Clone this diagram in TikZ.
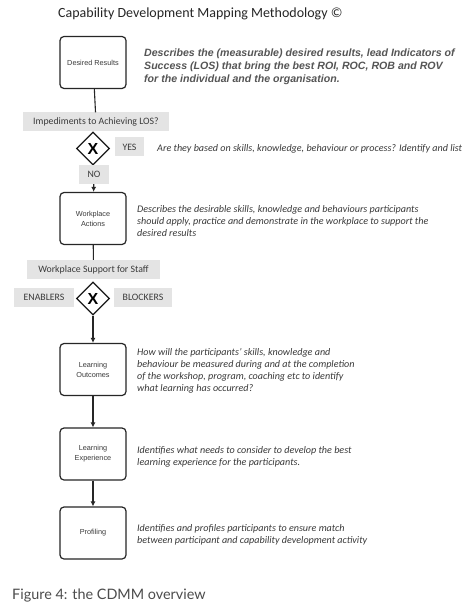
\documentclass[tikz,border=0pt]{standalone}
\usepackage{fontspec}
\setmainfont{Carlito}
\newfontfamily\arialfont{Liberation Sans}
\newfontfamily\capfont{Lato}
\usetikzlibrary{arrows.meta,shapes.geometric,positioning}
\definecolor{labelgray}{HTML}{E4E4E4}
\definecolor{textgray}{HTML}{3A3A3A}
\definecolor{descgray}{HTML}{555555}
\tikzset{stepbox/.style={draw=black!85, line width=1.2pt, rounded corners=4pt,
    minimum width=66pt, minimum height=52pt, inner sep=1pt, align=center,
    font=\arialfont\fontsize{7.3}{10}\selectfont, text=textgray},
  gatelabel/.style={fill=labelgray, inner sep=0pt, minimum height=19pt,
    font=\fontsize{9.8}{10}\selectfont, text=textgray},
  gate/.style={diamond, draw=black!90, line width=1.2pt, fill=white, aspect=1,
    minimum width=33pt, minimum height=33pt, inner sep=0pt,
    font=\arialfont\bfseries\fontsize{16}{16}\selectfont},
  desc/.style={anchor=west, inner sep=0pt, align=left, text=textgray,
    font=\itshape\fontsize{10.1}{12}\selectfont},
  flow/.style={line width=1.1pt, draw=black!85, -{Latex[length=5pt,width=5pt]}},
  link/.style={line width=1.1pt, draw=black!85}}

\begin{document}
\begin{tikzpicture}[x=1pt, y=-1pt]
      \useasboundingbox [fill=white] (0, 0) rectangle (474, 609);

      \node [font=\fontsize{14}{16}\selectfont, text=black!85, anchor=west, inner sep=0pt] (title) at (58, 14) {Capability Development Mapping Methodology \textcopyright};

      % boxes down the left
      \node [stepbox] (results) at (93, 62.5) {Desired Results};
      \node [gatelabel, minimum width=146pt] (impede) at (96, 122) {Impediments to Achieving LOS?};
      \node [gate] (gateone) at (93, 148.5) {X};
      \node [gatelabel, minimum width=29pt] (yes) at (129.5, 147) {YES};
      \node [gatelabel, minimum width=30pt] (no) at (94, 174.5) {NO};
      \node [stepbox] (actions) at (93, 218.5) {Workplace\\Actions};
      \node [gatelabel, minimum width=133pt] (support) at (93.5, 269.5) {Workplace Support for Staff};
      \node [gate] (gatetwo) at (93, 298.5) {X};
      \node [gatelabel, minimum width=60pt] (enablers) at (44, 297) {ENABLERS};
      \node [gatelabel, minimum width=58pt] (blockers) at (143, 297) {BLOCKERS};
      \node [stepbox] (outcomes) at (93, 369.5) {Learning\\Outcomes};
      \node [stepbox] (experience) at (93, 454) {Learning\\Experience};
      \node [stepbox] (profiling) at (93, 533) {Profiling};

      \draw [link] (results) -- (impede);
      \draw [flow] (no) -- (actions);
      \draw [link] (actions) -- (support);
      \draw [flow] (gatetwo) -- (outcomes);
      \draw [flow] (outcomes) -- (experience);
      \draw [flow] (experience) -- (profiling);

      % descriptions on the right
      \node [desc, text=descgray, font=\arialfont\bfseries\itshape\fontsize{10.6}{13}\selectfont] (descresults) at (144, 67) {Describes the (measurable) desired results, lead Indicators of\\Success (LOS) that bring the best ROI, ROC, ROB and ROV\\for the individual and the organisation.};
      \node [desc] (descimpede) at (157, 149) {Are they based on skills, knowledge, behaviour or process? Identify and list};
      \node [desc] (descactions) at (137, 221) {Describes the desirable skills, knowledge and behaviours participants\\should apply, practice and demonstrate in the workplace to support the\\desired results};
      \node [desc] (descoutcomes) at (137, 371) {How will the participants' skills, knowledge and\\behaviour be measured during and at the completion\\of the workshop, program, coaching etc to identify\\what learning has occurred?};
      \node [desc] (descexperience) at (137, 457) {Identifies what needs to consider to develop the best\\learning experience for the participants.};
      \node [desc] (descprofiling) at (137, 535) {Identifies and profiles participants to ensure match\\between participant and capability development activity};

      \node [anchor=west, inner sep=0pt, text=black!70, font=\capfont\fontsize{14.4}{16}\selectfont] (caption) at (12, 596) {Figure 4: the CDMM overview};
\end{tikzpicture}
\end{document}
